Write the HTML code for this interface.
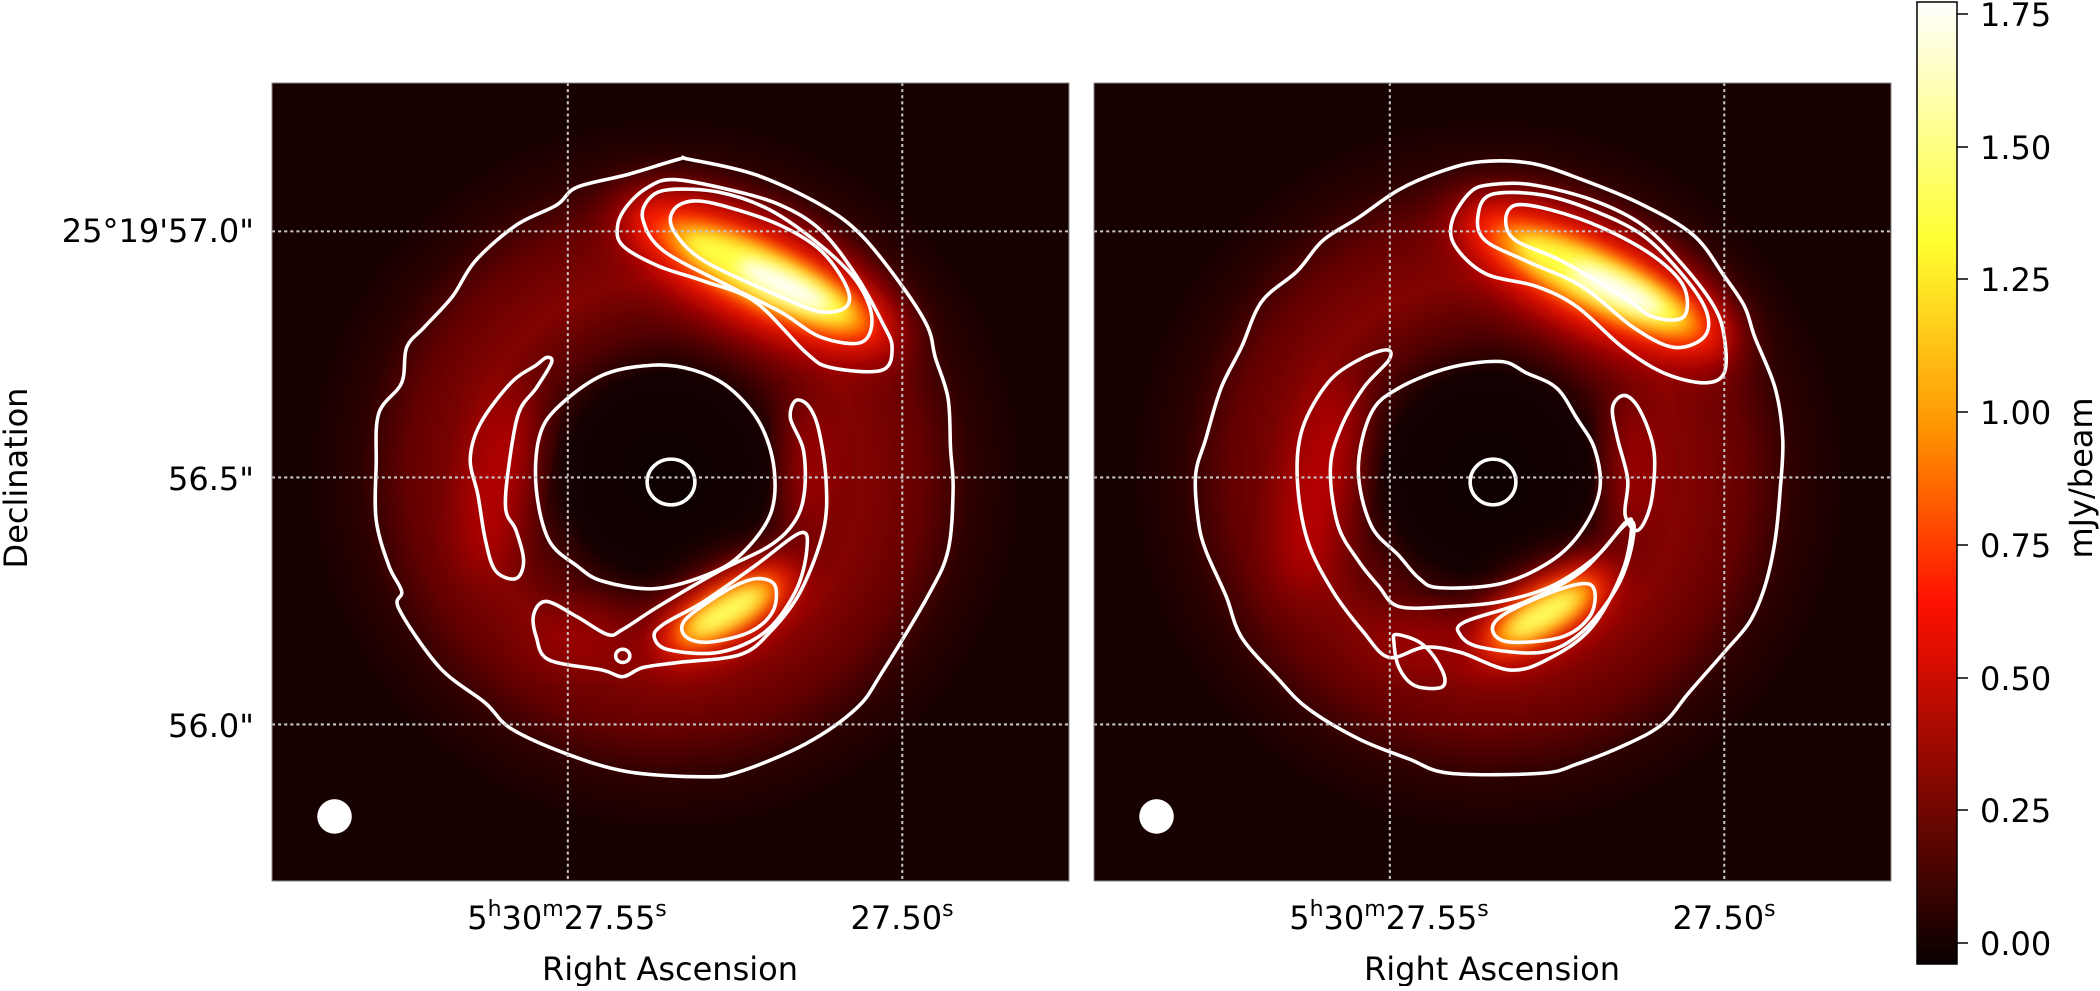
<!DOCTYPE html>
<html><head><meta charset="utf-8"><style>
html,body{margin:0;padding:0;background:#fff;}
svg text{font-family:"DejaVu Sans","Liberation Sans",sans-serif;fill:#000;}
</style></head><body>
<svg id="root" width="2100" height="986" viewBox="0 0 2100 986" xmlns="http://www.w3.org/2000/svg">
<defs>
 <radialGradient id="disc" gradientUnits="userSpaceOnUse" cx="775" cy="770" r="700">
  <stop offset="0" stop-color="#0c0000"/>
  <stop offset="0.28" stop-color="#140000"/>
  <stop offset="0.40" stop-color="#520000"/>
  <stop offset="0.55" stop-color="#820300"/>
  <stop offset="0.72" stop-color="#640000"/>
  <stop offset="0.86" stop-color="#2c0000"/>
  <stop offset="1" stop-color="#180000"/>
 </radialGradient>
 <filter id="b40" x="-50%" y="-50%" width="200%" height="200%"><feGaussianBlur stdDeviation="40"/></filter>
 <filter id="b25" x="-50%" y="-50%" width="200%" height="200%"><feGaussianBlur stdDeviation="25"/></filter>
 <filter id="b15" x="-50%" y="-50%" width="200%" height="200%"><feGaussianBlur stdDeviation="15"/></filter>
 <linearGradient id="cb" x1="0" y1="0" x2="0" y2="1">
  <stop offset="0" stop-color="#ffffff"/>
  <stop offset="0.25" stop-color="#ffff30"/>
  <stop offset="0.45" stop-color="#ff9000"/>
  <stop offset="0.625" stop-color="#ff1000"/>
  <stop offset="1" stop-color="#080000"/>
 </linearGradient>
</defs>

<!-- LEFT PANEL -->
<svg x="272" y="83" width="797" height="798" viewBox="0 0 1568 1570" preserveAspectRatio="none">
 <rect width="1568" height="1570" fill="#170000"/>
 <circle cx="775" cy="770" r="700" fill="url(#disc)"/>
 <ellipse cx="445" cy="780" rx="50" ry="190" fill="#c00000" transform="rotate(10 445 780)" filter="url(#b40)"/>
 <ellipse cx="1060" cy="760" rx="40" ry="140" fill="#b00000" filter="url(#b40)"/>
 <ellipse cx="610" cy="1090" rx="100" ry="45" fill="#a00000" filter="url(#b40)"/>
 <g transform="rotate(26 960 380)">
  <ellipse cx="960" cy="380" rx="320" ry="120" fill="#c00000" filter="url(#b40)"/>
  <ellipse cx="960" cy="380" rx="275" ry="85" fill="#ff2000" filter="url(#b25)"/>
  <ellipse cx="970" cy="378" rx="225" ry="60" fill="#ff9000" filter="url(#b15)"/>
  <ellipse cx="975" cy="376" rx="185" ry="44" fill="#ffff40" filter="url(#b15)"/>
  <ellipse cx="1010" cy="376" rx="100" ry="24" fill="#ffffff" filter="url(#b15)"/>
 </g>
 <g transform="rotate(-30 895 1040)">
  <ellipse cx="895" cy="1040" rx="185" ry="80" fill="#c00000" filter="url(#b40)"/>
  <ellipse cx="895" cy="1040" rx="145" ry="55" fill="#ff3000" filter="url(#b25)"/>
  <ellipse cx="895" cy="1040" rx="110" ry="38" fill="#ffa000" filter="url(#b15)"/>
  <ellipse cx="895" cy="1040" rx="80" ry="25" fill="#ffff60" filter="url(#b15)"/>
 </g>
 <g fill="none" stroke="#fff" stroke-width="7" stroke-linejoin="round">
  <polygon class="sm" points="800,150 700,180 600,205 560,240 480,280 400,350 355,420 300,480 265,520 255,590 210,650 205,750 205,860 230,950 255,1000 250,1035 330,1150 420,1220 470,1270 580,1320 700,1355 850,1365 920,1355 1050,1300 1150,1230 1200,1160 1290,1010 1330,920 1340,800 1335,720 1330,620 1305,540 1290,480 1240,400 1160,300 1080,240 950,180 820,150"/>
  <polygon class="sm" points="750,555 650,575 560,640 525,700 520,800 545,900 600,950 650,980 750,995 850,970 920,930 980,850 988,760 960,670 900,600 830,565"/>
  <ellipse cx="785" cy="785" rx="47" ry="45"/>
  <polygon class="sm" points="700,240 680,280 690,320 760,360 850,390 950,430 1050,530 1100,560 1200,565 1220,520 1200,470 1150,380 1080,290 1000,240 900,210 790,190 740,205"/>
  <polygon class="sm" points="740,230 730,270 770,330 900,400 1000,450 1080,500 1160,510 1180,460 1150,390 1080,320 980,250 880,215 780,210"/>
  <polygon class="sm" points="790,250 790,290 850,350 1000,420 1080,450 1130,440 1130,400 1080,330 1000,280 900,245 830,232"/>
  <polygon class="sm" points="540,540 520,555 470,590 410,670 390,740 405,810 420,900 440,960 480,975 495,940 480,880 460,840 465,760 485,650 520,600 550,550"/>
  <polygon class="sm" points="1030,625 1020,660 1045,720 1048,800 1030,860 980,910 880,960 760,1030 690,1075 660,1085 600,1050 540,1020 515,1045 520,1090 545,1135 650,1155 690,1168 730,1150 800,1140 920,1125 980,1080 1040,1000 1085,880 1090,780 1075,680 1055,635"/>
  <polygon class="sm" points="1040,885 1052,920 1030,1000 970,1080 880,1120 780,1115 752,1090 770,1065 850,1020 950,950"/>
  <polygon class="sm" points="960,975 990,990 985,1040 940,1080 860,1100 815,1090 810,1060 860,1020 920,985"/>
  <ellipse cx="690" cy="1127" rx="14" ry="13"/>
 </g>
 <g stroke="#c8c8c8" stroke-width="4" stroke-dasharray="6 6">
  <line x1="582" y1="0" x2="582" y2="1570"/><line x1="1240" y1="0" x2="1240" y2="1570"/>
  <line x1="0" y1="292" x2="1568" y2="292"/><line x1="0" y1="776" x2="1568" y2="776"/><line x1="0" y1="1262" x2="1568" y2="1262"/>
 </g>
 <circle cx="123" cy="1443" r="34" fill="#fff"/>
</svg>
<rect x="272" y="83" width="797" height="798" fill="none" stroke="#888" stroke-width="1"/>

<!-- RIGHT PANEL -->
<svg x="1094" y="83" width="797" height="798" viewBox="0 0 1568 1570" preserveAspectRatio="none">
 <rect width="1568" height="1570" fill="#170000"/>
 <circle cx="775" cy="770" r="700" fill="url(#disc)"/>
 <ellipse cx="445" cy="790" rx="55" ry="220" fill="#c00000" transform="rotate(12 445 790)" filter="url(#b40)"/>
 <ellipse cx="1065" cy="760" rx="40" ry="140" fill="#b00000" filter="url(#b40)"/>
 <ellipse cx="640" cy="1100" rx="90" ry="45" fill="#a00000" filter="url(#b40)"/>
 <g transform="rotate(26 985 390)">
  <ellipse cx="985" cy="390" rx="320" ry="120" fill="#c00000" filter="url(#b40)"/>
  <ellipse cx="985" cy="390" rx="275" ry="85" fill="#ff2000" filter="url(#b25)"/>
  <ellipse cx="990" cy="388" rx="225" ry="60" fill="#ff9000" filter="url(#b15)"/>
  <ellipse cx="995" cy="386" rx="185" ry="44" fill="#ffff40" filter="url(#b15)"/>
  <ellipse cx="1030" cy="386" rx="100" ry="24" fill="#ffffff" filter="url(#b15)"/>
 </g>
 <g transform="rotate(-30 885 1045)">
  <ellipse cx="885" cy="1045" rx="185" ry="80" fill="#c00000" filter="url(#b40)"/>
  <ellipse cx="885" cy="1045" rx="145" ry="55" fill="#ff3000" filter="url(#b25)"/>
  <ellipse cx="885" cy="1045" rx="110" ry="38" fill="#ffa000" filter="url(#b15)"/>
  <ellipse cx="885" cy="1045" rx="80" ry="25" fill="#ffff60" filter="url(#b15)"/>
 </g>
 <g fill="none" stroke="#fff" stroke-width="7" stroke-linejoin="round">
  <polygon class="sm" points="760,155 860,158 960,190 1080,240 1180,300 1240,380 1280,440 1300,500 1340,600 1355,700 1350,800 1340,900 1320,990 1290,1060 1240,1120 1170,1200 1120,1260 1050,1300 950,1340 880,1358 700,1358 620,1330 520,1290 420,1230 360,1170 290,1090 260,1010 220,920 205,860 200,770 220,700 250,600 290,520 330,430 400,370 450,310 520,265 600,210 680,175"/>
  <polygon class="sm" points="800,548 700,560 600,600 545,650 520,760 545,870 600,930 640,975 680,993 800,985 900,940 960,880 995,800 985,720 950,660 910,600 850,570"/>
  <ellipse cx="785" cy="785" rx="45" ry="45"/>
  <polygon class="sm" points="740,215 705,270 710,320 770,375 870,400 950,440 1040,520 1120,570 1200,590 1240,570 1240,500 1220,440 1160,360 1080,280 980,230 860,200 780,200"/>
  <polygon class="sm" points="780,220 755,265 770,310 850,350 960,400 1060,480 1140,520 1200,500 1205,450 1160,380 1080,300 980,250 880,220"/>
  <polygon class="sm" points="830,240 810,270 830,310 920,350 1040,420 1100,460 1160,460 1160,400 1100,340 1000,285 900,250"/>
  <polygon class="sm" points="575,525 520,545 460,590 410,680 400,780 420,900 470,1000 530,1080 580,1130 650,1110 720,1120 820,1155 900,1130 980,1070 1040,960 1058,870 1045,865 990,930 900,990 800,1020 700,1030 600,1030 560,990 520,940 480,870 465,760 485,680 530,600 580,545"/>
  <polygon class="sm" points="1040,615 1020,640 1030,700 1050,780 1045,850 1070,880 1095,830 1103,740 1090,680 1065,630"/>
  <polygon class="sm" points="1050,865 1060,900 1030,990 960,1080 880,1120 760,1110 720,1085 730,1060 850,1020 960,960"/>
  <polygon class="sm" points="960,985 985,1000 975,1050 920,1090 820,1100 785,1080 800,1050 880,1010"/>
  <polygon class="sm" points="595,1085 640,1100 670,1130 690,1170 680,1190 630,1185 600,1150 590,1100"/>
 </g>
 <g stroke="#c8c8c8" stroke-width="4" stroke-dasharray="6 6">
  <line x1="582" y1="0" x2="582" y2="1570"/><line x1="1240" y1="0" x2="1240" y2="1570"/>
  <line x1="0" y1="292" x2="1568" y2="292"/><line x1="0" y1="776" x2="1568" y2="776"/><line x1="0" y1="1262" x2="1568" y2="1262"/>
 </g>
 <circle cx="123" cy="1443" r="34" fill="#fff"/>
</svg>
<rect x="1094" y="83" width="797" height="798" fill="none" stroke="#888" stroke-width="1"/>

<!-- Y labels -->
<g font-size="32" text-anchor="end">
 <text x="254" y="242">25°19'57.0"</text>
 <text x="254" y="490">56.5"</text>
 <text x="254" y="737">56.0"</text>
</g>
<text x="0" y="0" font-size="32" text-anchor="middle" transform="translate(27 478) rotate(-90)">Declination</text>

<!-- X labels -->
<g font-size="32" text-anchor="middle">
 <text x="567" y="929">5<tspan font-size="22" dy="-13">h</tspan><tspan dy="13">30</tspan><tspan font-size="22" dy="-13">m</tspan><tspan dy="13">27.55</tspan><tspan font-size="22" dy="-13">s</tspan></text>
 <text x="902" y="929">27.50<tspan font-size="22" dy="-13">s</tspan></text>
 <text x="1389" y="929">5<tspan font-size="22" dy="-13">h</tspan><tspan dy="13">30</tspan><tspan font-size="22" dy="-13">m</tspan><tspan dy="13">27.55</tspan><tspan font-size="22" dy="-13">s</tspan></text>
 <text x="1724" y="929">27.50<tspan font-size="22" dy="-13">s</tspan></text>
 <text x="670" y="980">Right Ascension</text>
 <text x="1492" y="980">Right Ascension</text>
</g>

<!-- Colorbar -->
<rect x="1917" y="2" width="40" height="962" fill="url(#cb)" stroke="#000" stroke-width="1.5"/>
<g stroke="#000" stroke-width="1.5">
 <line x1="1957" y1="14" x2="1968" y2="14"/><line x1="1957" y1="147" x2="1968" y2="147"/>
 <line x1="1957" y1="279" x2="1968" y2="279"/><line x1="1957" y1="412" x2="1968" y2="412"/>
 <line x1="1957" y1="545" x2="1968" y2="545"/><line x1="1957" y1="678" x2="1968" y2="678"/>
 <line x1="1957" y1="810" x2="1968" y2="810"/><line x1="1957" y1="943" x2="1968" y2="943"/>
</g>
<g font-size="32">
 <text x="1980" y="26">1.75</text><text x="1980" y="159">1.50</text>
 <text x="1980" y="291">1.25</text><text x="1980" y="424">1.00</text>
 <text x="1980" y="557">0.75</text><text x="1980" y="690">0.50</text>
 <text x="1980" y="822">0.25</text><text x="1980" y="955">0.00</text>
</g>
<text x="0" y="0" font-size="32" text-anchor="middle" transform="translate(2092 478) rotate(-90)">mJy/beam</text>
</svg>
<script>
(function(){
  var ns="http://www.w3.org/2000/svg";
  var polys=document.querySelectorAll("polygon.sm");
  for(var i=0;i<polys.length;i++){
    var pg=polys[i];
    var pts=pg.getAttribute("points").trim().split(/\s+/).map(function(s){var a=s.split(",");return [+a[0],+a[1]];});
    var n=pts.length, d="M"+pts[0][0]+","+pts[0][1];
    for(var k=0;k<n;k++){
      var p0=pts[(k-1+n)%n],p1=pts[k],p2=pts[(k+1)%n],p3=pts[(k+2)%n];
      var c1x=p1[0]+(p2[0]-p0[0])/6,c1y=p1[1]+(p2[1]-p0[1])/6;
      var c2x=p2[0]-(p3[0]-p1[0])/6,c2y=p2[1]-(p3[1]-p1[1])/6;
      d+=" C"+c1x.toFixed(1)+","+c1y.toFixed(1)+" "+c2x.toFixed(1)+","+c2y.toFixed(1)+" "+p2[0]+","+p2[1];
    }
    d+="Z";
    var p=document.createElementNS(ns,"path");
    p.setAttribute("d",d);
    pg.parentNode.replaceChild(p,pg);
  }
})();
</script>
</body></html>
